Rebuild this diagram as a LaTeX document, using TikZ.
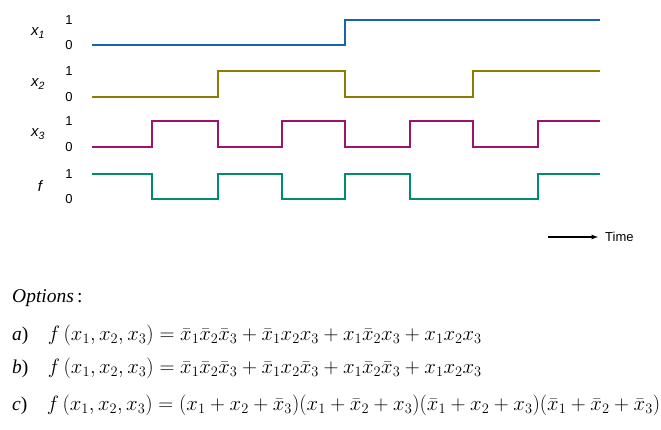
\documentclass[tikz,border=0pt]{standalone}
\usepackage{fontspec}
\setmainfont{Liberation Serif}
\newfontfamily\sans{Liberation Sans}
\begin{document}
\begin{tikzpicture}[x=1pt,y=-1pt,
  wave/.style={line width=1.4pt},
  lvl/.style={font=\sans\fontsize{13}{14}\selectfont,anchor=center},
  sig/.style={font=\sans\itshape\fontsize{15}{16}\selectfont},
  eq/.style={anchor=west,font=\fontsize{19.5}{22}\selectfont,inner sep=0pt}]
\definecolor{wblue}{RGB}{20,100,180}
\definecolor{wolive}{RGB}{140,125,0}
\definecolor{wmag}{RGB}{155,20,110}
\definecolor{wgreen}{RGB}{0,140,110}
\useasboundingbox (0,0) rectangle (661,429);
\node[sig] (s1) at (38,33) {x\textsubscript{1}};
\node[sig] (s2) at (38,84) {x\textsubscript{2}};
\node[sig] (s3) at (38,134) {x\textsubscript{3}};
\node[sig] (s4) at (40,186) {f};
\foreach \y/\n in {20/a,71/b,121/c,174/d}{\node[lvl] (h\n) at (69,\y) {1};}
\foreach \y/\n in {45/a,97/b,147/c,199/d}{\node[lvl] (l\n) at (69,\y) {0};}
\draw[wave,wblue] (92,45) -- (345,45) -- (345,20) -- (600,20);
\draw[wave,wolive] (92,97) -- (218,97) -- (218,71) -- (345,71) -- (345,97) -- (473,97) -- (473,71) -- (600,71);
\draw[wave,wmag] (92,147) -- (152,147) -- (152,121) -- (218,121) -- (218,147) -- (282,147) -- (282,121) -- (345,121) -- (345,147) -- (410,147) -- (410,121) -- (473,121) -- (473,147) -- (538,147) -- (538,121) -- (600,121);
\draw[wave,wgreen] (92,174) -- (152,174) -- (152,199) -- (218,199) -- (218,174) -- (282,174) -- (282,199) -- (345,199) -- (345,174) -- (410,174) -- (410,199) -- (538,199) -- (538,174) -- (600,174);
\coordinate (ta) at (548,237);
\node[font=\sans\fontsize{13}{14}\selectfont,anchor=west,inner sep=0pt] (time) at (605,237) {Time};
\draw[line width=1.2pt,-latex] (ta) -- (598,237);
\node[eq] (opt) at (12,298) {\textit{Options}\,:};
\node[eq] (ea) at (12,335) {\textit{a})\quad $f\,(x_1,x_2,x_3)=\bar x_1\bar x_2\bar x_3+\bar x_1x_2x_3+x_1\bar x_2x_3+x_1x_2x_3$};
\node[eq] (eb) at (12,368) {\textit{b})\quad $f\,(x_1,x_2,x_3)=\bar x_1\bar x_2\bar x_3+\bar x_1x_2\bar x_3+x_1\bar x_2\bar x_3+x_1x_2x_3$};
\node[eq] (ec) at (12,405) {\textit{c})\quad $f\,(x_1,x_2,x_3)=(x_1+x_2+\bar x_3)(x_1+\bar x_2+x_3)(\bar x_1+x_2+x_3)(\bar x_1+\bar x_2+\bar x_3)$};
\end{tikzpicture}
\end{document}
